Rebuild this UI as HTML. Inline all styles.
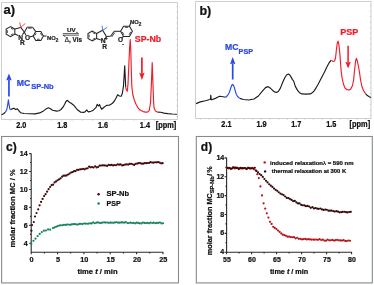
<!DOCTYPE html><html><head><meta charset="utf-8"><title>Figure</title><style>html,body{margin:0;padding:0;background:#fff;}svg{display:block;}</style></head><body><svg width="374" height="285" viewBox="0 0 374 285"><rect width="374" height="285" fill="#fff"/><rect x="1.5" y="2.5" width="176" height="117" fill="none" stroke="#cdd0d0" stroke-width="1"/>
<rect x="195.5" y="1.5" width="175.5" height="117" fill="none" stroke="#cdd0d0" stroke-width="1"/>
<rect x="1.6" y="136.5" width="176.9" height="146.4" fill="none" stroke="#868b8b" stroke-width="1.1"/>
<rect x="196.3" y="136.5" width="176.0" height="146.4" fill="none" stroke="#868b8b" stroke-width="1.1"/>
<path d="M10.30 119.5v1.3M20.60 119.5v1.3M30.90 119.5v1.3M41.20 119.5v1.3M51.50 119.5v1.3M61.80 119.5v1.3M72.10 119.5v1.3M82.40 119.5v1.3M92.70 119.5v1.3M103.00 119.5v1.3M113.30 119.5v1.3M123.60 119.5v1.3M133.90 119.5v1.3M144.20 119.5v1.3M154.50 119.5v1.3M164.80 119.5v1.3M175.10 119.5v1.3M177.5 6.50h-1.2M177.5 12.00h-1.2M177.5 17.50h-1.2M177.5 23.00h-1.2M177.5 28.50h-1.2M177.5 34.00h-1.2M177.5 39.50h-1.2M177.5 45.00h-1.2M177.5 50.50h-1.2M177.5 56.00h-1.2M177.5 61.50h-1.2M177.5 67.00h-1.2M177.5 72.50h-1.2M177.5 78.00h-1.2M177.5 83.50h-1.2M177.5 89.00h-1.2M177.5 94.50h-1.2M177.5 100.00h-1.2M177.5 105.50h-1.2M177.5 111.00h-1.2M177.5 116.50h-1.2" stroke="#b8bcbc" stroke-width="0.6" fill="none"/>
<path d="M200.40 118.5v1.3M209.10 118.5v1.3M217.80 118.5v1.3M226.50 118.5v1.3M235.20 118.5v1.3M243.90 118.5v1.3M252.60 118.5v1.3M261.30 118.5v1.3M270.00 118.5v1.3M278.70 118.5v1.3M287.40 118.5v1.3M296.10 118.5v1.3M304.80 118.5v1.3M313.50 118.5v1.3M322.20 118.5v1.3M330.90 118.5v1.3M339.60 118.5v1.3M348.30 118.5v1.3M357.00 118.5v1.3M365.70 118.5v1.3M371 5.50h-1.2M371 11.00h-1.2M371 16.50h-1.2M371 22.00h-1.2M371 27.50h-1.2M371 33.00h-1.2M371 38.50h-1.2M371 44.00h-1.2M371 49.50h-1.2M371 55.00h-1.2M371 60.50h-1.2M371 66.00h-1.2M371 71.50h-1.2M371 77.00h-1.2M371 82.50h-1.2M371 88.00h-1.2M371 93.50h-1.2M371 99.00h-1.2M371 104.50h-1.2M371 110.00h-1.2M371 115.50h-1.2" stroke="#b8bcbc" stroke-width="0.6" fill="none"/>
<text x="3.6" y="13.7" font-size="13" font-weight="bold" font-family="'Liberation Sans', Arial, sans-serif" fill="#111" stroke="#111" stroke-width="0.22">a)</text>
<text x="199.4" y="15.2" font-size="12.5" font-weight="bold" font-family="'Liberation Sans', Arial, sans-serif" fill="#111" stroke="#111" stroke-width="0.22">b)</text>
<text x="6" y="150.5" font-size="12" font-weight="bold" font-family="'Liberation Sans', Arial, sans-serif" fill="#111" stroke="#111" stroke-width="0.22">c)</text>
<text x="200.8" y="150.6" font-size="12" font-weight="bold" font-family="'Liberation Sans', Arial, sans-serif" fill="#111" stroke="#111" stroke-width="0.22">d)</text>
<g transform="translate(21.2 127.9) scale(1 1.13)"><text x="0" y="0" font-size="7.3" font-weight="bold" text-anchor="middle" fill="#111" font-family="'Liberation Sans', Arial, sans-serif" stroke="#111" stroke-width="0.22">2.0</text></g>
<g transform="translate(62.3 127.9) scale(1 1.13)"><text x="0" y="0" font-size="7.3" font-weight="bold" text-anchor="middle" fill="#111" font-family="'Liberation Sans', Arial, sans-serif" stroke="#111" stroke-width="0.22">1.8</text></g>
<g transform="translate(103 127.9) scale(1 1.13)"><text x="0" y="0" font-size="7.3" font-weight="bold" text-anchor="middle" fill="#111" font-family="'Liberation Sans', Arial, sans-serif" stroke="#111" stroke-width="0.22">1.6</text></g>
<g transform="translate(144.9 127.9) scale(1 1.13)"><text x="0" y="0" font-size="7.3" font-weight="bold" text-anchor="middle" fill="#111" font-family="'Liberation Sans', Arial, sans-serif" stroke="#111" stroke-width="0.22">1.4</text></g>
<g transform="translate(155.7 127.9) scale(1 1.1)"><text x="0" y="0" font-size="7.4" font-weight="bold" text-anchor="start" fill="#111" font-family="'Liberation Sans', Arial, sans-serif" stroke="#111" stroke-width="0.22">[ppm]</text></g>
<g transform="translate(226.4 126.9) scale(1 1.13)"><text x="0" y="0" font-size="7.3" font-weight="bold" text-anchor="middle" fill="#111" font-family="'Liberation Sans', Arial, sans-serif" stroke="#111" stroke-width="0.22">2.1</text></g>
<g transform="translate(261.5 126.9) scale(1 1.13)"><text x="0" y="0" font-size="7.3" font-weight="bold" text-anchor="middle" fill="#111" font-family="'Liberation Sans', Arial, sans-serif" stroke="#111" stroke-width="0.22">1.9</text></g>
<g transform="translate(296.3 126.9) scale(1 1.13)"><text x="0" y="0" font-size="7.3" font-weight="bold" text-anchor="middle" fill="#111" font-family="'Liberation Sans', Arial, sans-serif" stroke="#111" stroke-width="0.22">1.7</text></g>
<g transform="translate(331.3 126.9) scale(1 1.13)"><text x="0" y="0" font-size="7.3" font-weight="bold" text-anchor="middle" fill="#111" font-family="'Liberation Sans', Arial, sans-serif" stroke="#111" stroke-width="0.22">1.5</text></g>
<g transform="translate(349.6 126.9) scale(1 1.1)"><text x="0" y="0" font-size="7.4" font-weight="bold" text-anchor="start" fill="#111" font-family="'Liberation Sans', Arial, sans-serif" stroke="#111" stroke-width="0.22">[ppm]</text></g>
<polyline points="1.50,114.70 3.50,113.80 5.40,112.30" fill="none" stroke="#1c1c1c" stroke-width="1.15" stroke-linejoin="round"/>
<polyline points="10.60,109.90 12.00,108.90 13.80,108.20 15.60,109.50 17.40,108.90 19.00,110.80 20.50,112.70 24.00,113.50 30.00,113.80 35.00,113.90 39.70,112.90 43.50,110.90 46.00,108.90 48.40,107.80 50.50,108.70 52.60,110.20 56.80,111.10 59.00,110.70 61.00,109.50 63.00,107.20 64.50,104.50 66.00,101.50 67.10,100.30 69.50,102.20 71.50,103.50 73.70,105.20 75.50,107.30 77.20,109.50 80.70,112.30 84.20,112.40 85.60,111.20 86.70,109.90 87.60,111.20 88.70,111.90 91.00,111.20 93.30,110.20 96.10,107.30 97.30,104.30 98.20,105.80 98.90,105.80 99.60,104.60 100.60,107.40 101.70,109.30 104.00,107.30 106.60,105.40 108.40,105.30 110.20,104.90 112.40,103.30 114.40,101.00 116.20,97.80 117.60,94.80 119.40,96.00 121.20,96.20 122.30,93.50 123.40,86.70 124.20,75.00 124.70,65.80 125.20,76.00 125.70,87.60" fill="none" stroke="#1c1c1c" stroke-width="1.15" stroke-linejoin="round"/>
<polyline points="157.40,112.10 160.70,112.30 164.00,113.10 167.70,113.60 172.00,114.00 177.00,114.30" fill="none" stroke="#1c1c1c" stroke-width="1.15" stroke-linejoin="round"/>
<polyline points="5.40,112.30 6.80,109.50 7.60,105.50 8.40,99.80 9.10,105.00 9.80,108.60 10.60,109.90" fill="none" stroke="#2a48ea" stroke-width="1.15" stroke-linejoin="round"/>
<polyline points="125.70,87.60 126.50,90.20 127.30,91.20 128.00,84.00 128.80,66.00 129.60,48.00 130.20,39.50 130.80,50.00 131.30,70.00 131.80,86.00 132.80,94.50 134.30,99.90 136.00,104.20 137.80,107.60 140.00,110.00 143.10,111.60 145.50,112.10 147.50,112.10 149.20,110.60 150.50,103.00 151.40,84.00 152.20,62.60 152.90,82.00 153.50,100.00 154.00,107.50 155.20,110.60 156.30,111.60 157.40,112.10" fill="none" stroke="#f01c28" stroke-width="1.15" stroke-linejoin="round"/>
<line x1="8.95" y1="96.5" x2="8.95" y2="79.4" stroke="#2a48ea" stroke-width="1.7"/><polygon points="6.1499999999999995,80.4 8.95,79.4 11.75,80.4 8.95,73.4" fill="#2a48ea"/>
<line x1="141.9" y1="57.4" x2="141.9" y2="73.8" stroke="#f01c28" stroke-width="1.7"/><polygon points="139.20000000000002,72.8 141.9,73.8 144.6,72.8 141.9,80.1" fill="#f01c28"/>
<line x1="232.7" y1="79.5" x2="232.7" y2="63.3" stroke="#2a48ea" stroke-width="1.7"/><polygon points="230.0,64.3 232.7,63.3 235.39999999999998,64.3 232.7,57.0" fill="#2a48ea"/>
<line x1="348.1" y1="45.8" x2="348.1" y2="62.800000000000004" stroke="#f01c28" stroke-width="1.5"/><polygon points="345.40000000000003,61.800000000000004 348.1,62.800000000000004 350.8,61.800000000000004 348.1,68.4" fill="#f01c28"/>
<text x="16.8" y="85.7" font-size="8.7" font-weight="bold" fill="#2a48ea" font-family="'Liberation Sans', Arial, sans-serif" stroke="#2a48ea" stroke-width="0.22">MC</text>
<text x="31.2" y="88.9" font-size="7.5" font-weight="bold" fill="#2a48ea" font-family="'Liberation Sans', Arial, sans-serif" stroke="#2a48ea" stroke-width="0.22">SP-Nb</text>
<text x="134.8" y="41.5" font-size="8.8" font-weight="bold" fill="#f01c28" font-family="'Liberation Sans', Arial, sans-serif" stroke="#f01c28" stroke-width="0.22">SP-Nb</text>
<text x="225.0" y="49.7" font-size="8.6" font-weight="bold" fill="#2a48ea" font-family="'Liberation Sans', Arial, sans-serif" stroke="#2a48ea" stroke-width="0.22">MC</text>
<text x="238.6" y="53.7" font-size="7.2" font-weight="bold" fill="#2a48ea" font-family="'Liberation Sans', Arial, sans-serif" stroke="#2a48ea" stroke-width="0.22">PSP</text>
<text x="340.2" y="35.0" font-size="9" font-weight="bold" fill="#f01c28" font-family="'Liberation Sans', Arial, sans-serif" stroke="#f01c28" stroke-width="0.22">PSP</text>
<polyline points="196.00,103.60 200.30,101.90 205.50,100.70 209.90,99.50 210.40,99.30 210.80,95.20 211.20,99.60 211.70,99.80 216.00,98.10 219.60,96.30 223.10,96.70 225.70,97.20" fill="none" stroke="#1c1c1c" stroke-width="1.15" stroke-linejoin="round"/>
<polyline points="239.70,98.40 243.50,99.50 248.80,100.00 254.00,99.00 258.40,96.00 262.80,90.70 265.50,87.60 268.10,86.60 270.50,88.30 272.50,90.20 274.50,91.90 276.50,92.50 278.50,91.20 280.40,88.10 282.60,82.50 284.70,78.00 286.50,75.00 288.40,74.00 290.00,75.20 291.40,77.60 292.50,79.60 293.40,80.60 294.20,82.60 295.30,86.40 297.60,90.40 299.50,92.70 301.90,93.90 306.00,94.10 310.30,93.90 312.50,92.60 314.50,90.40 318.00,84.50 321.50,77.80 324.50,72.00 327.10,66.50 329.30,62.50 331.30,60.20" fill="none" stroke="#1c1c1c" stroke-width="1.15" stroke-linejoin="round"/>
<polyline points="365.50,93.60 367.40,95.60 369.20,96.70 371.00,97.60" fill="none" stroke="#1c1c1c" stroke-width="1.15" stroke-linejoin="round"/>
<polyline points="225.70,97.20 227.60,95.50 229.20,92.80 230.60,88.50 231.60,85.50 232.70,84.40 233.80,85.80 234.90,89.50 236.20,94.20 237.80,96.80 239.70,98.40" fill="none" stroke="#2a48ea" stroke-width="1.15" stroke-linejoin="round"/>
<polyline points="331.30,60.20 332.90,61.40 334.50,61.00 335.50,58.00 336.50,49.00 337.30,43.00 338.00,41.10 338.80,44.00 339.70,52.10 340.40,61.00 341.00,69.30 342.00,77.50 343.40,84.00 345.00,88.00 347.10,89.70 349.00,89.90 350.80,89.00 352.50,85.50 353.60,80.00 354.60,70.00 355.60,61.00 356.40,58.30 357.30,61.00 358.40,66.00 359.40,71.80 360.60,80.00 361.90,86.50 363.50,90.50 365.50,93.60" fill="none" stroke="#f01c28" stroke-width="1.15" stroke-linejoin="round"/>
<polygon points="10.50,26.60 6.17,29.10 6.17,34.10 10.50,36.60 14.83,34.10 14.83,29.10" fill="none" stroke="#262626" stroke-width="1.05"/><line x1="7.32" y1="30.20" x2="7.32" y2="33.00" stroke="#262626" stroke-width="0.85"/><line x1="10.88" y1="35.05" x2="13.30" y2="33.65" stroke="#262626" stroke-width="0.85"/><line x1="13.30" y1="29.55" x2="10.88" y2="28.15" stroke="#262626" stroke-width="0.85"/>
<line x1="14.83" y1="29.10" x2="20.80" y2="27.40" stroke="#262626" stroke-width="1.05"/>
<line x1="20.80" y1="27.40" x2="24.40" y2="32.20" stroke="#262626" stroke-width="1.05"/>
<line x1="24.40" y1="32.20" x2="22.40" y2="34.60" stroke="#262626" stroke-width="1.05"/>
<line x1="14.83" y1="34.10" x2="18.20" y2="35.40" stroke="#262626" stroke-width="1.05"/>
<line x1="20.80" y1="27.40" x2="19.70" y2="22.40" stroke="#f01c28" stroke-width="0.8"/>
<line x1="20.80" y1="27.40" x2="25.40" y2="23.40" stroke="#f01c28" stroke-width="0.8"/>
<polygon points="43.40,36.00 40.85,31.58 35.75,31.58 33.20,36.00 35.75,40.42 40.85,40.42" fill="none" stroke="#262626" stroke-width="1.05"/><line x1="41.84" y1="35.60" x2="40.42" y2="33.13" stroke="#262626" stroke-width="0.85"/><line x1="36.18" y1="33.13" x2="34.76" y2="35.60" stroke="#262626" stroke-width="0.85"/><line x1="36.87" y1="39.27" x2="39.73" y2="39.27" stroke="#262626" stroke-width="0.85"/>
<line x1="24.40" y1="32.20" x2="27.20" y2="27.20" stroke="#262626" stroke-width="1.05"/>
<line x1="27.20" y1="27.20" x2="32.60" y2="27.20" stroke="#262626" stroke-width="1.05"/>
<line x1="32.60" y1="27.20" x2="35.75" y2="31.58" stroke="#262626" stroke-width="1.05"/>
<line x1="28.20" y1="28.30" x2="31.70" y2="28.30" stroke="#262626" stroke-width="0.7"/>
<line x1="33.20" y1="36.00" x2="29.60" y2="37.00" stroke="#262626" stroke-width="1.05"/>
<line x1="24.40" y1="32.20" x2="25.90" y2="34.90" stroke="#262626" stroke-width="1.05"/>
<line x1="43.40" y1="36.00" x2="46.60" y2="36.00" stroke="#262626" stroke-width="1.05"/>
<text x="20.6" y="39.7" font-size="6.6" font-weight="bold" text-anchor="middle" fill="#222" font-family="'Liberation Sans', Arial, sans-serif" stroke="#222" stroke-width="0.22">N</text>
<text x="22.5" y="45.1" font-size="6.6" font-weight="bold" text-anchor="middle" fill="#222" font-family="'Liberation Sans', Arial, sans-serif" stroke="#222" stroke-width="0.22">R</text>
<text x="27.5" y="39.8" font-size="6.5" font-weight="bold" text-anchor="middle" fill="#222" font-family="'Liberation Sans', Arial, sans-serif" stroke="#222" stroke-width="0.22">O</text>
<text x="47.0" y="40.2" font-size="5.8" font-weight="bold" fill="#222" font-family="'Liberation Sans', Arial, sans-serif" stroke="#222" stroke-width="0.22">NO<tspan font-size="4.6" dy="1.3">2</tspan></text>
<path d="M62.7 33.6H78.6l-2.6 -1.6M78.8 35.2H62.9l2.6 1.6" fill="none" stroke="#333" stroke-width="0.8"/>
<text x="71.4" y="31.5" font-size="6.2" font-weight="bold" text-anchor="middle" fill="#222" font-family="'Liberation Sans', Arial, sans-serif" stroke="#222" stroke-width="0.22">UV</text>
<text x="73.4" y="41.9" font-size="6.3" font-weight="bold" text-anchor="middle" fill="#222" font-family="'Liberation Sans', Arial, sans-serif" stroke="#222" stroke-width="0.22"><tspan font-weight="normal">&#916;</tspan>, Vis</text>
<polygon points="92.30,31.00 87.97,33.50 87.97,38.50 92.30,41.00 96.63,38.50 96.63,33.50" fill="none" stroke="#262626" stroke-width="1.05"/><line x1="89.12" y1="34.60" x2="89.12" y2="37.40" stroke="#262626" stroke-width="0.85"/><line x1="92.68" y1="39.45" x2="95.10" y2="38.05" stroke="#262626" stroke-width="0.85"/><line x1="95.10" y1="33.95" x2="92.68" y2="32.55" stroke="#262626" stroke-width="0.85"/>
<line x1="96.63" y1="33.50" x2="102.60" y2="30.30" stroke="#262626" stroke-width="1.05"/>
<line x1="102.60" y1="30.30" x2="106.40" y2="36.40" stroke="#262626" stroke-width="1.05"/>
<line x1="106.40" y1="36.40" x2="105.20" y2="38.80" stroke="#262626" stroke-width="1.05"/>
<line x1="96.63" y1="38.50" x2="100.80" y2="40.00" stroke="#262626" stroke-width="1.05"/>
<line x1="102.60" y1="30.30" x2="102.10" y2="25.60" stroke="#3050e0" stroke-width="0.8"/>
<line x1="102.60" y1="30.30" x2="107.20" y2="27.40" stroke="#3050e0" stroke-width="0.8"/>
<polygon points="132.40,31.30 129.45,26.19 123.55,26.19 120.60,31.30 123.55,36.41 129.45,36.41" fill="none" stroke="#262626" stroke-width="1.05"/><line x1="128.15" y1="27.34" x2="124.85" y2="27.34" stroke="#262626" stroke-width="0.85"/><line x1="122.24" y1="31.85" x2="123.90" y2="34.71" stroke="#262626" stroke-width="0.85"/><line x1="129.10" y1="34.71" x2="130.76" y2="31.85" stroke="#262626" stroke-width="0.85"/>
<line x1="106.40" y1="36.40" x2="110.60" y2="36.30" stroke="#262626" stroke-width="1.05"/>
<line x1="110.60" y1="36.30" x2="114.20" y2="31.30" stroke="#262626" stroke-width="1.05"/>
<line x1="114.20" y1="31.30" x2="120.60" y2="31.30" stroke="#262626" stroke-width="1.05"/>
<line x1="111.70" y1="37.00" x2="114.90" y2="32.60" stroke="#262626" stroke-width="0.85"/>
<line x1="129.45" y1="26.19" x2="130.80" y2="23.00" stroke="#262626" stroke-width="1.05"/>
<line x1="123.55" y1="36.41" x2="121.60" y2="38.00" stroke="#262626" stroke-width="1.05"/>
<text x="103.2" y="43.0" font-size="6.7" font-weight="bold" text-anchor="middle" fill="#222" font-family="'Liberation Sans', Arial, sans-serif" stroke="#222" stroke-width="0.22">N</text>
<text x="106.3" y="40.0" font-size="5" font-weight="bold" text-anchor="middle" fill="#222" font-family="'Liberation Sans', Arial, sans-serif" stroke="#222" stroke-width="0.22">+</text>
<text x="104.7" y="49.2" font-size="6.7" font-weight="bold" text-anchor="middle" fill="#222" font-family="'Liberation Sans', Arial, sans-serif" stroke="#222" stroke-width="0.22">R</text>
<text x="120.5" y="42.4" font-size="6.5" font-weight="bold" text-anchor="middle" fill="#222" font-family="'Liberation Sans', Arial, sans-serif" stroke="#222" stroke-width="0.22">O</text>
<text x="123.2" y="46.0" font-size="5" font-weight="bold" text-anchor="middle" fill="#222" font-family="'Liberation Sans', Arial, sans-serif" stroke="#222" stroke-width="0.22">-</text>
<text x="130.0" y="24.4" font-size="5.8" font-weight="bold" fill="#222" font-family="'Liberation Sans', Arial, sans-serif" stroke="#222" stroke-width="0.22">NO<tspan font-size="4.6" dy="1.3">2</tspan></text>
<path d="M31.2 153.4V252.3H163.3M31.2 243.30h-2.0M31.2 234.33h-1.2M31.2 225.36h-2.0M31.2 216.39h-1.2M31.2 207.42h-2.0M31.2 198.45h-1.2M31.2 189.48h-2.0M31.2 180.51h-1.2M31.2 171.54h-2.0M31.2 162.57h-1.2M31.2 153.60h-2.0M31.20 252.3v2.0M44.38 252.3v1.2M57.55 252.3v2.0M70.72 252.3v1.2M83.90 252.3v2.0M97.08 252.3v1.2M110.25 252.3v2.0M123.42 252.3v1.2M136.60 252.3v2.0M149.77 252.3v1.2M162.95 252.3v2.0" fill="none" stroke="#2a2a2a" stroke-width="1.1"/>
<text x="27.7" y="245.70000000000002" font-size="7.1" font-weight="bold" text-anchor="end" fill="#111" font-family="'Liberation Sans', Arial, sans-serif" stroke="#111" stroke-width="0.22">4</text>
<text x="27.7" y="227.76000000000002" font-size="7.1" font-weight="bold" text-anchor="end" fill="#111" font-family="'Liberation Sans', Arial, sans-serif" stroke="#111" stroke-width="0.22">6</text>
<text x="27.7" y="209.82000000000002" font-size="7.1" font-weight="bold" text-anchor="end" fill="#111" font-family="'Liberation Sans', Arial, sans-serif" stroke="#111" stroke-width="0.22">8</text>
<text x="27.7" y="191.88000000000002" font-size="7.1" font-weight="bold" text-anchor="end" fill="#111" font-family="'Liberation Sans', Arial, sans-serif" stroke="#111" stroke-width="0.22">10</text>
<text x="27.7" y="173.94000000000003" font-size="7.1" font-weight="bold" text-anchor="end" fill="#111" font-family="'Liberation Sans', Arial, sans-serif" stroke="#111" stroke-width="0.22">12</text>
<text x="27.7" y="156.00000000000003" font-size="7.1" font-weight="bold" text-anchor="end" fill="#111" font-family="'Liberation Sans', Arial, sans-serif" stroke="#111" stroke-width="0.22">14</text>
<text x="31.599999999999998" y="262.2" font-size="7.3" font-weight="bold" text-anchor="middle" fill="#111" font-family="'Liberation Sans', Arial, sans-serif" stroke="#111" stroke-width="0.22">0</text>
<text x="57.949999999999996" y="262.2" font-size="7.3" font-weight="bold" text-anchor="middle" fill="#111" font-family="'Liberation Sans', Arial, sans-serif" stroke="#111" stroke-width="0.22">5</text>
<text x="84.3" y="262.2" font-size="7.3" font-weight="bold" text-anchor="middle" fill="#111" font-family="'Liberation Sans', Arial, sans-serif" stroke="#111" stroke-width="0.22">10</text>
<text x="110.65" y="262.2" font-size="7.3" font-weight="bold" text-anchor="middle" fill="#111" font-family="'Liberation Sans', Arial, sans-serif" stroke="#111" stroke-width="0.22">15</text>
<text x="137.0" y="262.2" font-size="7.3" font-weight="bold" text-anchor="middle" fill="#111" font-family="'Liberation Sans', Arial, sans-serif" stroke="#111" stroke-width="0.22">20</text>
<text x="163.35" y="262.2" font-size="7.3" font-weight="bold" text-anchor="middle" fill="#111" font-family="'Liberation Sans', Arial, sans-serif" stroke="#111" stroke-width="0.22">25</text>
<text x="97.5" y="274.1" font-size="7.6" font-weight="bold" text-anchor="middle" fill="#111" font-family="'Liberation Sans', Arial, sans-serif" stroke="#111" stroke-width="0.22">time <tspan font-style="italic">t</tspan> / min</text>
<text transform="translate(15.2 247.4) rotate(-90)" font-size="7.65" font-weight="bold" text-anchor="start" fill="#111" font-family="'Liberation Sans', Arial, sans-serif" stroke="#111" stroke-width="0.22">molar fraction MC / %</text>
<circle cx="31.30" cy="243.71" r="1.1" fill="#17845c"/><circle cx="33.40" cy="240.86" r="1.1" fill="#17845c"/><circle cx="35.50" cy="238.70" r="1.1" fill="#17845c"/><circle cx="37.60" cy="236.06" r="1.1" fill="#17845c"/><circle cx="39.70" cy="233.88" r="1.1" fill="#17845c"/><circle cx="41.80" cy="232.07" r="1.1" fill="#17845c"/><circle cx="43.90" cy="230.70" r="1.1" fill="#17845c"/><circle cx="46.00" cy="230.48" r="1.1" fill="#17845c"/><circle cx="48.10" cy="229.46" r="1.1" fill="#17845c"/><circle cx="50.20" cy="229.71" r="1.1" fill="#17845c"/><circle cx="53.00" cy="228.07" r="1.1" fill="#17845c"/><circle cx="54.55" cy="227.42" r="1.1" fill="#17845c"/><circle cx="56.10" cy="226.76" r="1.1" fill="#17845c"/><circle cx="57.65" cy="226.05" r="1.1" fill="#17845c"/><circle cx="59.20" cy="225.48" r="1.1" fill="#17845c"/><circle cx="60.75" cy="225.33" r="1.1" fill="#17845c"/><circle cx="62.30" cy="225.27" r="1.1" fill="#17845c"/><circle cx="63.85" cy="224.86" r="1.1" fill="#17845c"/><circle cx="65.40" cy="224.97" r="1.1" fill="#17845c"/><circle cx="66.95" cy="224.54" r="1.1" fill="#17845c"/><circle cx="68.50" cy="224.49" r="1.1" fill="#17845c"/><circle cx="70.05" cy="224.79" r="1.1" fill="#17845c"/><circle cx="71.60" cy="224.47" r="1.1" fill="#17845c"/><circle cx="73.15" cy="224.15" r="1.1" fill="#17845c"/><circle cx="74.70" cy="224.17" r="1.1" fill="#17845c"/><circle cx="76.25" cy="224.28" r="1.1" fill="#17845c"/><circle cx="77.80" cy="224.55" r="1.1" fill="#17845c"/><circle cx="79.35" cy="223.91" r="1.1" fill="#17845c"/><circle cx="80.90" cy="223.83" r="1.1" fill="#17845c"/><circle cx="82.45" cy="224.05" r="1.1" fill="#17845c"/><circle cx="84.00" cy="223.48" r="1.1" fill="#17845c"/><circle cx="85.55" cy="223.54" r="1.1" fill="#17845c"/><circle cx="87.10" cy="223.74" r="1.1" fill="#17845c"/><circle cx="88.65" cy="223.57" r="1.1" fill="#17845c"/><circle cx="90.20" cy="223.35" r="1.1" fill="#17845c"/><circle cx="91.75" cy="223.39" r="1.1" fill="#17845c"/><circle cx="93.30" cy="222.41" r="1.1" fill="#17845c"/><circle cx="94.85" cy="223.27" r="1.1" fill="#17845c"/><circle cx="96.40" cy="222.69" r="1.1" fill="#17845c"/><circle cx="97.95" cy="222.43" r="1.1" fill="#17845c"/><circle cx="99.50" cy="222.85" r="1.1" fill="#17845c"/><circle cx="101.05" cy="222.90" r="1.1" fill="#17845c"/><circle cx="102.60" cy="222.55" r="1.1" fill="#17845c"/><circle cx="104.15" cy="222.33" r="1.1" fill="#17845c"/><circle cx="105.70" cy="222.56" r="1.1" fill="#17845c"/><circle cx="107.25" cy="222.51" r="1.1" fill="#17845c"/><circle cx="108.80" cy="222.85" r="1.1" fill="#17845c"/><circle cx="110.35" cy="222.69" r="1.1" fill="#17845c"/><circle cx="111.90" cy="222.55" r="1.1" fill="#17845c"/><circle cx="113.45" cy="222.78" r="1.1" fill="#17845c"/><circle cx="115.00" cy="222.45" r="1.1" fill="#17845c"/><circle cx="116.55" cy="222.27" r="1.1" fill="#17845c"/><circle cx="118.10" cy="222.65" r="1.1" fill="#17845c"/><circle cx="119.65" cy="222.65" r="1.1" fill="#17845c"/><circle cx="121.20" cy="222.47" r="1.1" fill="#17845c"/><circle cx="122.75" cy="222.38" r="1.1" fill="#17845c"/><circle cx="124.30" cy="222.71" r="1.1" fill="#17845c"/><circle cx="125.85" cy="222.11" r="1.1" fill="#17845c"/><circle cx="127.40" cy="222.99" r="1.1" fill="#17845c"/><circle cx="128.95" cy="223.01" r="1.1" fill="#17845c"/><circle cx="130.50" cy="222.54" r="1.1" fill="#17845c"/><circle cx="132.05" cy="223.02" r="1.1" fill="#17845c"/><circle cx="133.60" cy="222.83" r="1.1" fill="#17845c"/><circle cx="135.15" cy="223.32" r="1.1" fill="#17845c"/><circle cx="136.70" cy="222.67" r="1.1" fill="#17845c"/><circle cx="138.25" cy="222.97" r="1.1" fill="#17845c"/><circle cx="139.80" cy="223.37" r="1.1" fill="#17845c"/><circle cx="141.35" cy="223.45" r="1.1" fill="#17845c"/><circle cx="142.90" cy="222.57" r="1.1" fill="#17845c"/><circle cx="144.45" cy="222.93" r="1.1" fill="#17845c"/><circle cx="146.00" cy="223.07" r="1.1" fill="#17845c"/><circle cx="147.55" cy="222.79" r="1.1" fill="#17845c"/><circle cx="149.10" cy="223.30" r="1.1" fill="#17845c"/><circle cx="150.65" cy="222.60" r="1.1" fill="#17845c"/><circle cx="152.20" cy="222.99" r="1.1" fill="#17845c"/><circle cx="153.75" cy="222.64" r="1.1" fill="#17845c"/><circle cx="155.30" cy="223.25" r="1.1" fill="#17845c"/><circle cx="156.85" cy="222.89" r="1.1" fill="#17845c"/><circle cx="158.40" cy="222.81" r="1.1" fill="#17845c"/><circle cx="159.95" cy="222.50" r="1.1" fill="#17845c"/><circle cx="161.50" cy="223.41" r="1.1" fill="#17845c"/><circle cx="163.05" cy="223.26" r="1.1" fill="#17845c"/><circle cx="31.40" cy="230.70" r="1.1" fill="#420a0a"/><circle cx="32.00" cy="225.10" r="1.1" fill="#420a0a"/><circle cx="33.80" cy="222.00" r="1.1" fill="#420a0a"/><circle cx="35.00" cy="216.50" r="1.1" fill="#420a0a"/><circle cx="36.50" cy="213.00" r="1.1" fill="#420a0a"/><circle cx="38.20" cy="209.30" r="1.1" fill="#420a0a"/><circle cx="39.60" cy="205.30" r="1.1" fill="#420a0a"/><circle cx="41.10" cy="201.90" r="1.1" fill="#420a0a"/><circle cx="42.60" cy="198.90" r="1.1" fill="#420a0a"/><circle cx="44.10" cy="196.10" r="1.1" fill="#420a0a"/><circle cx="45.60" cy="194.18" r="1.1" fill="#420a0a"/><circle cx="47.10" cy="191.72" r="1.1" fill="#420a0a"/><circle cx="48.60" cy="189.17" r="1.1" fill="#420a0a"/><circle cx="50.10" cy="187.02" r="1.1" fill="#420a0a"/><circle cx="51.60" cy="185.19" r="1.1" fill="#420a0a"/><circle cx="53.10" cy="184.69" r="1.1" fill="#420a0a"/><circle cx="54.60" cy="182.38" r="1.1" fill="#420a0a"/><circle cx="56.10" cy="181.43" r="1.1" fill="#420a0a"/><circle cx="57.60" cy="180.25" r="1.1" fill="#420a0a"/><circle cx="59.10" cy="179.30" r="1.1" fill="#420a0a"/><circle cx="60.60" cy="178.34" r="1.1" fill="#420a0a"/><circle cx="62.10" cy="176.67" r="1.1" fill="#420a0a"/><circle cx="63.60" cy="175.68" r="1.1" fill="#420a0a"/><circle cx="65.10" cy="175.64" r="1.1" fill="#420a0a"/><circle cx="66.60" cy="175.39" r="1.1" fill="#420a0a"/><circle cx="68.10" cy="174.49" r="1.1" fill="#420a0a"/><circle cx="69.60" cy="173.54" r="1.1" fill="#420a0a"/><circle cx="71.10" cy="172.52" r="1.1" fill="#420a0a"/><circle cx="72.60" cy="172.05" r="1.1" fill="#420a0a"/><circle cx="74.10" cy="171.19" r="1.1" fill="#420a0a"/><circle cx="75.60" cy="171.03" r="1.1" fill="#420a0a"/><circle cx="77.10" cy="169.86" r="1.1" fill="#420a0a"/><circle cx="78.60" cy="169.79" r="1.1" fill="#420a0a"/><circle cx="80.10" cy="169.31" r="1.1" fill="#420a0a"/><circle cx="81.60" cy="169.24" r="1.1" fill="#420a0a"/><circle cx="83.10" cy="168.79" r="1.1" fill="#420a0a"/><circle cx="84.60" cy="169.37" r="1.1" fill="#420a0a"/><circle cx="86.10" cy="168.56" r="1.1" fill="#420a0a"/><circle cx="87.60" cy="168.25" r="1.1" fill="#420a0a"/><circle cx="89.10" cy="166.69" r="1.1" fill="#420a0a"/><circle cx="90.60" cy="167.29" r="1.1" fill="#420a0a"/><circle cx="92.10" cy="167.12" r="1.1" fill="#420a0a"/><circle cx="93.60" cy="167.50" r="1.1" fill="#420a0a"/><circle cx="95.10" cy="166.25" r="1.1" fill="#420a0a"/><circle cx="96.60" cy="167.39" r="1.1" fill="#420a0a"/><circle cx="98.10" cy="167.01" r="1.1" fill="#420a0a"/><circle cx="99.60" cy="165.70" r="1.1" fill="#420a0a"/><circle cx="101.10" cy="165.49" r="1.1" fill="#420a0a"/><circle cx="102.60" cy="165.30" r="1.1" fill="#420a0a"/><circle cx="104.10" cy="165.46" r="1.1" fill="#420a0a"/><circle cx="105.60" cy="165.52" r="1.1" fill="#420a0a"/><circle cx="107.10" cy="165.91" r="1.1" fill="#420a0a"/><circle cx="108.60" cy="164.87" r="1.1" fill="#420a0a"/><circle cx="110.10" cy="165.13" r="1.1" fill="#420a0a"/><circle cx="111.60" cy="164.80" r="1.1" fill="#420a0a"/><circle cx="113.10" cy="165.41" r="1.1" fill="#420a0a"/><circle cx="114.60" cy="165.00" r="1.1" fill="#420a0a"/><circle cx="116.10" cy="165.27" r="1.1" fill="#420a0a"/><circle cx="117.60" cy="164.31" r="1.1" fill="#420a0a"/><circle cx="119.10" cy="164.69" r="1.1" fill="#420a0a"/><circle cx="120.60" cy="164.46" r="1.1" fill="#420a0a"/><circle cx="122.10" cy="165.40" r="1.1" fill="#420a0a"/><circle cx="123.60" cy="165.03" r="1.1" fill="#420a0a"/><circle cx="125.10" cy="164.53" r="1.1" fill="#420a0a"/><circle cx="126.60" cy="164.32" r="1.1" fill="#420a0a"/><circle cx="128.10" cy="164.53" r="1.1" fill="#420a0a"/><circle cx="129.60" cy="163.93" r="1.1" fill="#420a0a"/><circle cx="131.10" cy="163.74" r="1.1" fill="#420a0a"/><circle cx="132.60" cy="164.23" r="1.1" fill="#420a0a"/><circle cx="134.10" cy="164.95" r="1.1" fill="#420a0a"/><circle cx="135.60" cy="163.79" r="1.1" fill="#420a0a"/><circle cx="137.10" cy="163.57" r="1.1" fill="#420a0a"/><circle cx="138.60" cy="163.22" r="1.1" fill="#420a0a"/><circle cx="140.10" cy="163.03" r="1.1" fill="#420a0a"/><circle cx="141.60" cy="163.64" r="1.1" fill="#420a0a"/><circle cx="143.10" cy="163.64" r="1.1" fill="#420a0a"/><circle cx="144.60" cy="163.19" r="1.1" fill="#420a0a"/><circle cx="146.10" cy="163.21" r="1.1" fill="#420a0a"/><circle cx="147.60" cy="163.01" r="1.1" fill="#420a0a"/><circle cx="149.10" cy="162.91" r="1.1" fill="#420a0a"/><circle cx="150.60" cy="162.15" r="1.1" fill="#420a0a"/><circle cx="152.10" cy="162.50" r="1.1" fill="#420a0a"/><circle cx="153.60" cy="162.66" r="1.1" fill="#420a0a"/><circle cx="155.10" cy="162.24" r="1.1" fill="#420a0a"/><circle cx="156.60" cy="162.32" r="1.1" fill="#420a0a"/><circle cx="158.10" cy="162.18" r="1.1" fill="#420a0a"/><circle cx="159.60" cy="162.54" r="1.1" fill="#420a0a"/><circle cx="161.10" cy="163.31" r="1.1" fill="#420a0a"/><circle cx="162.60" cy="163.18" r="1.1" fill="#420a0a"/>
<circle cx="98.6" cy="194.2" r="1.25" fill="#420a0a"/>
<circle cx="98.6" cy="203.5" r="1.25" fill="#17845c"/>
<text x="106.6" y="196.3" font-size="7.5" font-weight="bold" text-anchor="start" fill="#111" font-family="'Liberation Sans', Arial, sans-serif" stroke="#111" stroke-width="0.22">SP-Nb</text>
<text x="106.6" y="205.8" font-size="7.0" font-weight="bold" text-anchor="start" fill="#111" font-family="'Liberation Sans', Arial, sans-serif" stroke="#111" stroke-width="0.22">PSP</text>
<path d="M226.6 157.6V252.2H352M226.6 252.20h-2.0M226.6 242.77h-1.2M226.6 233.34h-2.0M226.6 223.91h-1.2M226.6 214.48h-2.0M226.6 205.05h-1.2M226.6 195.62h-2.0M226.6 186.19h-1.2M226.6 176.76h-2.0M226.6 167.33h-1.2M226.6 157.90h-2.0M226.60 252.2v2.0M239.10 252.2v1.2M251.60 252.2v2.0M264.10 252.2v1.2M276.60 252.2v2.0M289.10 252.2v1.2M301.60 252.2v2.0M314.10 252.2v1.2M326.60 252.2v2.0M339.10 252.2v1.2M351.60 252.2v2.0" fill="none" stroke="#2a2a2a" stroke-width="1.1"/>
<text x="224.3" y="254.29999999999998" font-size="7.1" font-weight="bold" text-anchor="end" fill="#111" font-family="'Liberation Sans', Arial, sans-serif" stroke="#111" stroke-width="0.22">4</text>
<text x="224.3" y="235.43999999999997" font-size="7.1" font-weight="bold" text-anchor="end" fill="#111" font-family="'Liberation Sans', Arial, sans-serif" stroke="#111" stroke-width="0.22">6</text>
<text x="224.3" y="216.57999999999998" font-size="7.1" font-weight="bold" text-anchor="end" fill="#111" font-family="'Liberation Sans', Arial, sans-serif" stroke="#111" stroke-width="0.22">8</text>
<text x="224.3" y="197.72" font-size="7.1" font-weight="bold" text-anchor="end" fill="#111" font-family="'Liberation Sans', Arial, sans-serif" stroke="#111" stroke-width="0.22">10</text>
<text x="224.3" y="178.85999999999999" font-size="7.1" font-weight="bold" text-anchor="end" fill="#111" font-family="'Liberation Sans', Arial, sans-serif" stroke="#111" stroke-width="0.22">12</text>
<text x="224.3" y="159.99999999999997" font-size="7.1" font-weight="bold" text-anchor="end" fill="#111" font-family="'Liberation Sans', Arial, sans-serif" stroke="#111" stroke-width="0.22">14</text>
<text x="226.9" y="261.8" font-size="7.0" font-weight="bold" text-anchor="middle" fill="#111" font-family="'Liberation Sans', Arial, sans-serif" stroke="#111" stroke-width="0.22">55</text>
<text x="251.9" y="261.8" font-size="7.0" font-weight="bold" text-anchor="middle" fill="#111" font-family="'Liberation Sans', Arial, sans-serif" stroke="#111" stroke-width="0.22">60</text>
<text x="276.90000000000003" y="261.8" font-size="7.0" font-weight="bold" text-anchor="middle" fill="#111" font-family="'Liberation Sans', Arial, sans-serif" stroke="#111" stroke-width="0.22">65</text>
<text x="301.90000000000003" y="261.8" font-size="7.0" font-weight="bold" text-anchor="middle" fill="#111" font-family="'Liberation Sans', Arial, sans-serif" stroke="#111" stroke-width="0.22">70</text>
<text x="326.90000000000003" y="261.8" font-size="7.0" font-weight="bold" text-anchor="middle" fill="#111" font-family="'Liberation Sans', Arial, sans-serif" stroke="#111" stroke-width="0.22">75</text>
<text x="351.90000000000003" y="261.8" font-size="7.0" font-weight="bold" text-anchor="middle" fill="#111" font-family="'Liberation Sans', Arial, sans-serif" stroke="#111" stroke-width="0.22">80</text>
<text x="289.1" y="273.6" font-size="7.25" font-weight="bold" text-anchor="middle" fill="#111" font-family="'Liberation Sans', Arial, sans-serif" stroke="#111" stroke-width="0.22">time <tspan font-style="italic">t</tspan> / min</text>
<text transform="translate(211.9 255.2) rotate(-90)" font-size="7.3" font-weight="bold" fill="#111" font-family="'Liberation Sans', Arial, sans-serif" stroke="#111" stroke-width="0.22">molar fraction MC<tspan font-size="5.6" dy="2.2">SP-Nb</tspan><tspan dy="-2.2" dx="0.7">/</tspan><tspan dx="0.9">%</tspan></text>
<circle cx="226.80" cy="167.93" r="1.1" fill="#b8121c"/><circle cx="228.40" cy="168.37" r="1.1" fill="#b8121c"/><circle cx="230.00" cy="168.29" r="1.1" fill="#b8121c"/><circle cx="231.60" cy="168.76" r="1.1" fill="#b8121c"/><circle cx="233.20" cy="167.06" r="1.1" fill="#b8121c"/><circle cx="234.80" cy="168.39" r="1.1" fill="#b8121c"/><circle cx="236.40" cy="167.78" r="1.1" fill="#b8121c"/><circle cx="238.00" cy="168.06" r="1.1" fill="#b8121c"/><circle cx="239.60" cy="168.38" r="1.1" fill="#b8121c"/><circle cx="241.20" cy="168.49" r="1.1" fill="#b8121c"/><circle cx="242.80" cy="168.47" r="1.1" fill="#b8121c"/><circle cx="244.40" cy="168.09" r="1.1" fill="#b8121c"/><circle cx="246.00" cy="168.76" r="1.1" fill="#b8121c"/><circle cx="247.60" cy="167.94" r="1.1" fill="#b8121c"/><circle cx="249.20" cy="168.04" r="1.1" fill="#b8121c"/><circle cx="250.80" cy="168.51" r="1.1" fill="#b8121c"/><circle cx="252.40" cy="167.97" r="1.1" fill="#b8121c"/><circle cx="254.00" cy="169.27" r="1.1" fill="#b8121c"/><circle cx="255.60" cy="170.31" r="1.1" fill="#b8121c"/><circle cx="257.20" cy="174.26" r="1.1" fill="#b8121c"/><circle cx="258.80" cy="178.12" r="1.1" fill="#b8121c"/><circle cx="260.40" cy="186.45" r="1.1" fill="#b8121c"/><circle cx="262.00" cy="195.46" r="1.1" fill="#b8121c"/><circle cx="263.60" cy="203.30" r="1.1" fill="#b8121c"/><circle cx="265.20" cy="208.62" r="1.1" fill="#b8121c"/><circle cx="266.80" cy="213.36" r="1.1" fill="#b8121c"/><circle cx="268.40" cy="217.53" r="1.1" fill="#b8121c"/><circle cx="270.00" cy="221.82" r="1.1" fill="#b8121c"/><circle cx="271.60" cy="223.96" r="1.1" fill="#b8121c"/><circle cx="273.20" cy="226.86" r="1.1" fill="#b8121c"/><circle cx="274.80" cy="227.90" r="1.1" fill="#b8121c"/><circle cx="276.40" cy="228.98" r="1.1" fill="#b8121c"/><circle cx="278.00" cy="230.50" r="1.1" fill="#b8121c"/><circle cx="279.60" cy="231.87" r="1.1" fill="#b8121c"/><circle cx="281.20" cy="233.47" r="1.1" fill="#b8121c"/><circle cx="282.80" cy="234.71" r="1.1" fill="#b8121c"/><circle cx="284.40" cy="235.14" r="1.1" fill="#b8121c"/><circle cx="286.00" cy="235.87" r="1.1" fill="#b8121c"/><circle cx="287.60" cy="236.71" r="1.1" fill="#b8121c"/><circle cx="289.20" cy="236.67" r="1.1" fill="#b8121c"/><circle cx="290.80" cy="237.03" r="1.1" fill="#b8121c"/><circle cx="292.40" cy="237.23" r="1.1" fill="#b8121c"/><circle cx="294.00" cy="237.13" r="1.1" fill="#b8121c"/><circle cx="295.60" cy="238.31" r="1.1" fill="#b8121c"/><circle cx="297.20" cy="237.75" r="1.1" fill="#b8121c"/><circle cx="298.80" cy="238.86" r="1.1" fill="#b8121c"/><circle cx="300.40" cy="238.84" r="1.1" fill="#b8121c"/><circle cx="302.00" cy="239.38" r="1.1" fill="#b8121c"/><circle cx="303.60" cy="239.08" r="1.1" fill="#b8121c"/><circle cx="305.20" cy="238.92" r="1.1" fill="#b8121c"/><circle cx="306.80" cy="239.42" r="1.1" fill="#b8121c"/><circle cx="308.40" cy="239.18" r="1.1" fill="#b8121c"/><circle cx="310.00" cy="239.38" r="1.1" fill="#b8121c"/><circle cx="311.60" cy="239.54" r="1.1" fill="#b8121c"/><circle cx="313.20" cy="239.56" r="1.1" fill="#b8121c"/><circle cx="314.80" cy="239.63" r="1.1" fill="#b8121c"/><circle cx="316.40" cy="239.50" r="1.1" fill="#b8121c"/><circle cx="318.00" cy="239.81" r="1.1" fill="#b8121c"/><circle cx="319.60" cy="239.22" r="1.1" fill="#b8121c"/><circle cx="321.20" cy="240.00" r="1.1" fill="#b8121c"/><circle cx="322.80" cy="239.70" r="1.1" fill="#b8121c"/><circle cx="324.40" cy="240.57" r="1.1" fill="#b8121c"/><circle cx="326.00" cy="240.67" r="1.1" fill="#b8121c"/><circle cx="327.60" cy="239.57" r="1.1" fill="#b8121c"/><circle cx="329.20" cy="240.33" r="1.1" fill="#b8121c"/><circle cx="330.80" cy="240.25" r="1.1" fill="#b8121c"/><circle cx="332.40" cy="239.95" r="1.1" fill="#b8121c"/><circle cx="334.00" cy="240.53" r="1.1" fill="#b8121c"/><circle cx="335.60" cy="240.21" r="1.1" fill="#b8121c"/><circle cx="337.20" cy="239.78" r="1.1" fill="#b8121c"/><circle cx="338.80" cy="240.35" r="1.1" fill="#b8121c"/><circle cx="340.40" cy="240.45" r="1.1" fill="#b8121c"/><circle cx="342.00" cy="240.60" r="1.1" fill="#b8121c"/><circle cx="343.60" cy="240.20" r="1.1" fill="#b8121c"/><circle cx="345.20" cy="240.92" r="1.1" fill="#b8121c"/><circle cx="346.80" cy="241.05" r="1.1" fill="#b8121c"/><circle cx="348.40" cy="240.48" r="1.1" fill="#b8121c"/><circle cx="350.00" cy="240.74" r="1.1" fill="#b8121c"/><circle cx="227.60" cy="167.96" r="1.1" fill="#360808"/><circle cx="229.20" cy="167.75" r="1.1" fill="#360808"/><circle cx="230.80" cy="168.78" r="1.1" fill="#360808"/><circle cx="232.40" cy="168.09" r="1.1" fill="#360808"/><circle cx="234.00" cy="167.55" r="1.1" fill="#360808"/><circle cx="235.60" cy="167.65" r="1.1" fill="#360808"/><circle cx="237.20" cy="167.97" r="1.1" fill="#360808"/><circle cx="238.80" cy="169.03" r="1.1" fill="#360808"/><circle cx="240.40" cy="167.92" r="1.1" fill="#360808"/><circle cx="242.00" cy="168.06" r="1.1" fill="#360808"/><circle cx="243.60" cy="168.24" r="1.1" fill="#360808"/><circle cx="245.20" cy="168.00" r="1.1" fill="#360808"/><circle cx="246.80" cy="169.06" r="1.1" fill="#360808"/><circle cx="248.40" cy="167.83" r="1.1" fill="#360808"/><circle cx="250.00" cy="168.44" r="1.1" fill="#360808"/><circle cx="251.60" cy="168.23" r="1.1" fill="#360808"/><circle cx="253.20" cy="168.50" r="1.1" fill="#360808"/><circle cx="254.80" cy="167.77" r="1.1" fill="#360808"/><circle cx="256.40" cy="170.96" r="1.1" fill="#360808"/><circle cx="258.00" cy="172.43" r="1.1" fill="#360808"/><circle cx="259.60" cy="174.02" r="1.1" fill="#360808"/><circle cx="261.20" cy="175.17" r="1.1" fill="#360808"/><circle cx="262.80" cy="176.88" r="1.1" fill="#360808"/><circle cx="264.40" cy="179.01" r="1.1" fill="#360808"/><circle cx="266.00" cy="180.84" r="1.1" fill="#360808"/><circle cx="267.60" cy="182.42" r="1.1" fill="#360808"/><circle cx="269.20" cy="184.25" r="1.1" fill="#360808"/><circle cx="270.80" cy="185.67" r="1.1" fill="#360808"/><circle cx="272.40" cy="186.90" r="1.1" fill="#360808"/><circle cx="274.00" cy="188.57" r="1.1" fill="#360808"/><circle cx="275.60" cy="189.80" r="1.1" fill="#360808"/><circle cx="277.20" cy="190.79" r="1.1" fill="#360808"/><circle cx="278.80" cy="192.25" r="1.1" fill="#360808"/><circle cx="280.40" cy="193.55" r="1.1" fill="#360808"/><circle cx="282.00" cy="194.25" r="1.1" fill="#360808"/><circle cx="283.60" cy="195.08" r="1.1" fill="#360808"/><circle cx="285.20" cy="196.48" r="1.1" fill="#360808"/><circle cx="286.80" cy="197.89" r="1.1" fill="#360808"/><circle cx="288.40" cy="198.11" r="1.1" fill="#360808"/><circle cx="290.00" cy="199.07" r="1.1" fill="#360808"/><circle cx="291.60" cy="199.92" r="1.1" fill="#360808"/><circle cx="293.20" cy="201.22" r="1.1" fill="#360808"/><circle cx="294.80" cy="200.94" r="1.1" fill="#360808"/><circle cx="296.40" cy="202.46" r="1.1" fill="#360808"/><circle cx="298.00" cy="203.46" r="1.1" fill="#360808"/><circle cx="299.60" cy="203.46" r="1.1" fill="#360808"/><circle cx="301.20" cy="204.95" r="1.1" fill="#360808"/><circle cx="302.80" cy="205.25" r="1.1" fill="#360808"/><circle cx="304.40" cy="205.43" r="1.1" fill="#360808"/><circle cx="306.00" cy="206.15" r="1.1" fill="#360808"/><circle cx="307.60" cy="205.93" r="1.1" fill="#360808"/><circle cx="309.20" cy="206.62" r="1.1" fill="#360808"/><circle cx="310.80" cy="207.78" r="1.1" fill="#360808"/><circle cx="312.40" cy="207.15" r="1.1" fill="#360808"/><circle cx="314.00" cy="208.40" r="1.1" fill="#360808"/><circle cx="315.60" cy="208.00" r="1.1" fill="#360808"/><circle cx="317.20" cy="208.69" r="1.1" fill="#360808"/><circle cx="318.80" cy="208.81" r="1.1" fill="#360808"/><circle cx="320.40" cy="208.49" r="1.1" fill="#360808"/><circle cx="322.00" cy="209.40" r="1.1" fill="#360808"/><circle cx="323.60" cy="209.90" r="1.1" fill="#360808"/><circle cx="325.20" cy="209.62" r="1.1" fill="#360808"/><circle cx="326.80" cy="209.76" r="1.1" fill="#360808"/><circle cx="328.40" cy="210.63" r="1.1" fill="#360808"/><circle cx="330.00" cy="210.63" r="1.1" fill="#360808"/><circle cx="331.60" cy="210.57" r="1.1" fill="#360808"/><circle cx="333.20" cy="211.06" r="1.1" fill="#360808"/><circle cx="334.80" cy="211.60" r="1.1" fill="#360808"/><circle cx="336.40" cy="211.13" r="1.1" fill="#360808"/><circle cx="338.00" cy="211.66" r="1.1" fill="#360808"/><circle cx="339.60" cy="212.36" r="1.1" fill="#360808"/><circle cx="341.20" cy="212.21" r="1.1" fill="#360808"/><circle cx="342.80" cy="211.80" r="1.1" fill="#360808"/><circle cx="344.40" cy="211.74" r="1.1" fill="#360808"/><circle cx="346.00" cy="212.19" r="1.1" fill="#360808"/><circle cx="347.60" cy="212.45" r="1.1" fill="#360808"/><circle cx="349.20" cy="212.02" r="1.1" fill="#360808"/><circle cx="350.80" cy="211.80" r="1.1" fill="#360808"/>
<circle cx="264.7" cy="162.4" r="1.2" fill="#b8121c"/>
<circle cx="265.1" cy="171.4" r="1.2" fill="#360808"/>
<text x="270" y="165.1" font-size="6" font-weight="bold" fill="#111" font-family="'Liberation Sans', Arial, sans-serif" stroke="#111" stroke-width="0.22">induced relaxation<tspan font-weight="normal">&#955;</tspan> = 590 nm</text>
<text x="271.8" y="173.4" font-size="5.85" font-weight="bold" fill="#111" font-family="'Liberation Sans', Arial, sans-serif" stroke="#111" stroke-width="0.22">thermal relaxation at 300 K</text></svg></body></html>
